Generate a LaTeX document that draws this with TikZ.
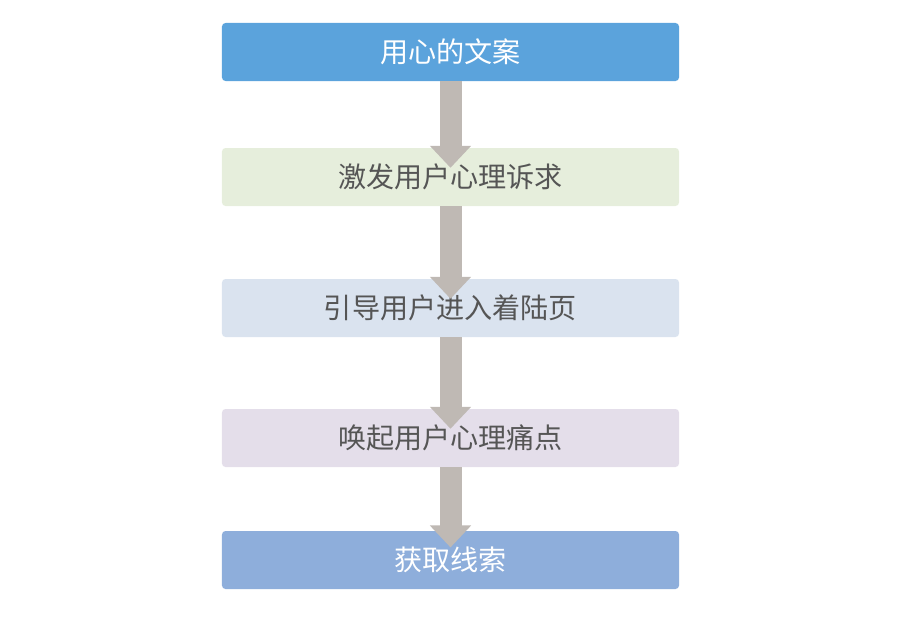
\documentclass[tikz,border=0pt]{standalone}
\usepackage{fontspec}
\newfontfamily\cjk{Noto Sans CJK SC}
\usetikzlibrary{positioning, arrows.meta}
\definecolor{boxBlue}{HTML}{5BA3DC}
\definecolor{boxGreen}{HTML}{E6EEDC}
\definecolor{boxGrey}{HTML}{DAE3EF}
\definecolor{boxLilac}{HTML}{E4DEEA}
\definecolor{boxNavy}{HTML}{8EAEDB}
\definecolor{arrowGrey}{HTML}{BFB9B4}
\definecolor{textGrey}{HTML}{555555}
\tikzset{
  stepbox/.style={minimum width=13.71cm, minimum height=1.74cm, rounded corners=3pt, inner sep=0pt, font=\cjk\fontsize{24}{28}\selectfont},
  flow/.style={arrowGrey, line width=0.66cm, -{Triangle[width=1.2cm, length=0.66cm]}}
}
\begin{document}
\begin{tikzpicture}[x=0.03cm, y=-0.03cm]
\useasboundingbox (0,0) rectangle (900,617);
\node (wenan) [stepbox, fill=boxBlue, text=white] at (450.5,52) {用心的文案};
\node (jifa) [stepbox, fill=boxGreen, text=textGrey] at (450.5,177) {激发用户心理诉求};
\node (yindao) [stepbox, fill=boxGrey, text=textGrey] at (450.5,308) {引导用户进入着陆页};
\node (huanqi) [stepbox, fill=boxLilac, text=textGrey] at (450.5,438) {唤起用户心理痛点};
\node (xiansuo) [stepbox, fill=boxNavy, text=white] at (450.5,560) {获取线索};

\draw[flow] (wenan.south) -- ([yshift=-0.6cm]jifa.north);
\draw[flow] (jifa.south) -- ([yshift=-0.6cm]yindao.north);
\draw[flow] (yindao.south) -- ([yshift=-0.6cm]huanqi.north);
\draw[flow] (huanqi.south) -- ([yshift=-0.5cm]xiansuo.north);
\end{tikzpicture}
\end{document}
